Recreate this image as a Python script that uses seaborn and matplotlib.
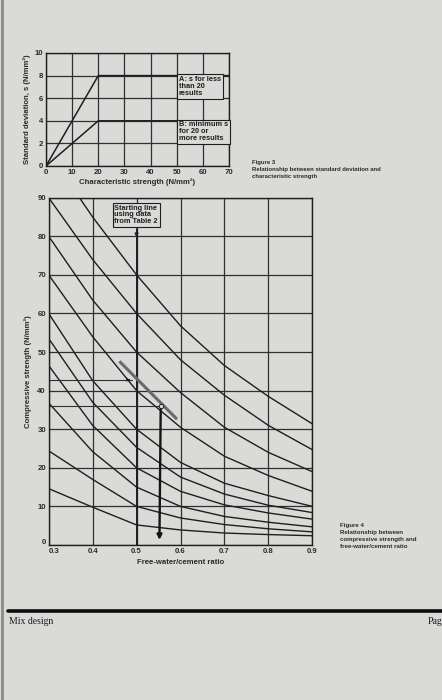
import numpy as np
import pandas as pd
import matplotlib
matplotlib.use("Agg")
import matplotlib.pyplot as plt
from matplotlib.lines import Line2D
import matplotlib.transforms as mtransforms
import seaborn as sns

# ---------------- Figure 3 data ----------------
strength_pts = [0, 20, 70]
sd_A = [0, 8, 8]
sd_B = [0, 4, 4]
fig3_xticks = [0, 10, 20, 30, 40, 50, 60, 70]
fig3_yticks = [0, 2, 4, 6, 8, 10]

# ---------------- Figure 4 data ----------------
wc_ratio = [0.3, 0.4, 0.5, 0.6, 0.7, 0.8, 0.9]
wc_c1 = [0.37, 0.4, 0.5, 0.6, 0.7, 0.8, 0.9]
curve_1 = [90, 85, 70, 56.8, 46.5, 38.5, 31.4]
curve_2 = [90, 74, 60, 48, 38.8, 31, 24.7]
curve_3 = [80, 63.5, 50, 39.5, 30.5, 24, 19]
curve_4 = [70, 54, 40, 30.5, 23, 18, 13.9]
curve_5 = [60, 42.6, 30, 21.4, 16, 12.8, 10]
curve_6 = [53.5, 37, 25.3, 17.6, 13.2, 10.3, 8.4]
curve_7 = [46.5, 31, 20, 13.9, 10.4, 8.3, 6.7]
curve_8 = [36.8, 24.2, 15, 10, 7.4, 5.9, 4.7]
curve_9 = [24.4, 17, 10, 7, 5.3, 4.2, 3.4]
curve_10 = [14.6, 9.8, 5.2, 3.9, 3.1, 2.7, 2.4]
fig4_xticks = [0.3, 0.4, 0.5, 0.6, 0.7, 0.8, 0.9]
fig4_xlabels = ["0.3", "0.4", "0.5", "0.6", "0.7", "0.8", "0.9"]
fig4_yticks = [0, 10, 20, 30, 40, 50, 60, 70, 80, 90]
example_levels = [42.8, 35.9]   # construction strengths (N/mm2)
example_wc = 0.555              # resulting free-water/cement ratio

# ---------------- tables ----------------
df3 = pd.DataFrame({
    "strength": strength_pts * 2,
    "sd": sd_A + sd_B,
    "line": ["A"] * 3 + ["B"] * 3,
})
rows = []
for i, vals in enumerate([curve_1, curve_2, curve_3, curve_4, curve_5,
                          curve_6, curve_7, curve_8, curve_9, curve_10]):
    xs = wc_c1 if i == 0 else wc_ratio
    for x, v in zip(xs, vals):
        rows.append({"wc": x, "strength": v, "curve": f"c{i+1}"})
df4 = pd.DataFrame(rows)

# ---------------- style ----------------
sns.set_theme(style="white")
plt.rcParams["font.family"] = ["Liberation Sans", "DejaVu Sans"]
paper = "#dadad8"
ink = "#1e1e1e"
gridc = "#303030"

fig = plt.figure(figsize=(4.42, 7.0), dpi=100, facecolor=paper)

def style_axes(ax):
    ax.set_facecolor(paper)
    for s in ax.spines.values():
        s.set_color(ink)
        s.set_linewidth(1.0)
    ax.grid(True, color=gridc, lw=0.9)
    ax.set_axisbelow(True)
    ax.tick_params(length=0, pad=2, labelsize=5.6, labelcolor="#2a2a2a")
    for lab in ax.get_xticklabels() + ax.get_yticklabels():
        lab.set_fontweight("bold")

# ---------------- Figure 3 ----------------
ax3 = fig.add_axes([46 / 442, 1 - 166 / 700, 183 / 442, 113 / 700])
sns.lineplot(data=df3, x="strength", y="sd", units="line", estimator=None,
             color=ink, lw=1.1, ax=ax3, legend=False)
ax3.set_xlim(0, 70)
ax3.set_ylim(0, 10)
ax3.set_xticks(fig3_xticks)
ax3.set_yticks(fig3_yticks)
ax3.set_xlabel("Characteristic strength (N/mm²)", fontsize=5.6,
               fontweight="bold", color="#2a2a2a", labelpad=2)
ax3.set_ylabel("Standard deviation, s (N/mm²)", fontsize=5.6,
               fontweight="bold", color="#2a2a2a", labelpad=3)
style_axes(ax3)
box = dict(boxstyle="square,pad=0.25", fc=paper, ec=ink, lw=0.8)
ax3.text(50.8, 7.95, "A: s for less\nthan 20\nresults", fontsize=5.3,
         va="top", ha="left", color=ink, linespacing=0.95, bbox=box,
         fontweight="bold")
ax3.text(50.8, 3.95, "B: minimum s\nfor 20 or\nmore results", fontsize=5.3,
         va="top", ha="left", color=ink, linespacing=0.95, bbox=box,
         fontweight="bold")

# ---------------- Figure 4 ----------------
ax4 = fig.add_axes([48.7 / 442, 1 - 545 / 700, 263.6 / 442, 347.3 / 700])
sns.lineplot(data=df4, x="wc", y="strength", units="curve", estimator=None,
             color=ink, lw=1.0, ax=ax4, legend=False)
ax4.set_xlim(0.3, 0.9)
ax4.set_ylim(0, 90)
ax4.set_xticks(fig4_xticks)
ax4.set_xticklabels(fig4_xlabels)
ax4.set_yticks(fig4_yticks)
ax4.set_xlabel("Free-water/cement ratio", fontsize=5.6, fontweight="bold",
               color="#2a2a2a", labelpad=3)
ax4.set_ylabel("Compressive strength (N/mm²)", fontsize=5.6,
               fontweight="bold", color="#2a2a2a", labelpad=4)
style_axes(ax4)
# nudge the first x label and the zero y label apart (as in the print)
xl0 = ax4.get_xticklabels()[0]
xl0.set_transform(xl0.get_transform() +
                  mtransforms.ScaledTranslation(5 / 100, 0, fig.dpi_scale_trans))
yl0 = ax4.get_yticklabels()[0]
yl0.set_transform(yl0.get_transform() +
                  mtransforms.ScaledTranslation(0, 3 / 100, fig.dpi_scale_trans))

# starting line annotation
ax4.axvline(0.5, color=ink, lw=1.4, ymax=0.91)
ax4.text(0.4495, 88.2, "Starting line\nusing data\nfrom Table 2", fontsize=5.3,
         va="top", ha="left", color=ink, linespacing=0.95, fontweight="bold",
         bbox=dict(boxstyle="square,pad=0.25", fc=paper, ec=ink, lw=0.8))
ax4.annotate("", xy=(0.5, 79.0), xytext=(0.5, 81.5),
             arrowprops=dict(arrowstyle="-|>", color=ink, lw=1.0,
                             mutation_scale=5))

# worked example construction
ax4.plot([0.461, 0.592], [47.6, 32.6], color="#6a6a6a", lw=2.2,
         solid_capstyle="butt")
ax4.plot([0.3, 0.49], [example_levels[0]] * 2, color=gridc, lw=0.8)
ax4.annotate("", xy=(0.492, example_levels[0]), xytext=(0.475, example_levels[0]),
             arrowprops=dict(arrowstyle="-|>", color=ink, lw=0.8,
                             mutation_scale=4))
ax4.plot([0.3, example_wc], [example_levels[1]] * 2, color=gridc, lw=0.8)
ax4.annotate("", xy=(example_wc - 0.003, 0.6),
             xytext=(example_wc, example_levels[1]),
             arrowprops=dict(arrowstyle="-|>", color="#141414", lw=1.7,
                             mutation_scale=7))
ax4.plot([example_wc], [example_levels[1]], marker="o", ms=3.2, mfc=paper,
         mec=ink, mew=0.7)

# ---------------- captions ----------------
capc = "#2b2b2b"
fig.text(252 / 442, 1 - 160 / 700,
         "Figure 3\nRelationship between standard deviation and\ncharacteristic strength",
         fontsize=4.3, va="top", ha="left", color=capc, fontweight="bold",
         linespacing=1.5)
fig.text(340 / 442, 1 - 523 / 700,
         "Figure 4\nRelationship between\ncompressive strength and\nfree-water/cement ratio",
         fontsize=4.4, va="top", ha="left", color=capc, fontweight="bold",
         linespacing=1.5)

# ---------------- page footer ----------------
fig.add_artist(Line2D([8 / 442, 1.0], [1 - 611 / 700] * 2, color="#0c0c0c",
                      lw=2.6, transform=fig.transFigure))
fig.text(9 / 442, 1 - 622 / 700, "Mix design", fontsize=7,
         family=["Liberation Serif", "DejaVu Serif"], color="#1a1a1a",
         va="center", ha="left")
fig.text(428 / 442, 1 - 622 / 700, "Page", fontsize=7,
         family=["Liberation Serif", "DejaVu Serif"], color="#1a1a1a",
         va="center", ha="left")
fig.add_artist(Line2D([2 / 442] * 2, [0, 1], color="#8a8a88", lw=2.0,
                      transform=fig.transFigure))

fig.savefig("out.png", dpi=100, facecolor=paper)
